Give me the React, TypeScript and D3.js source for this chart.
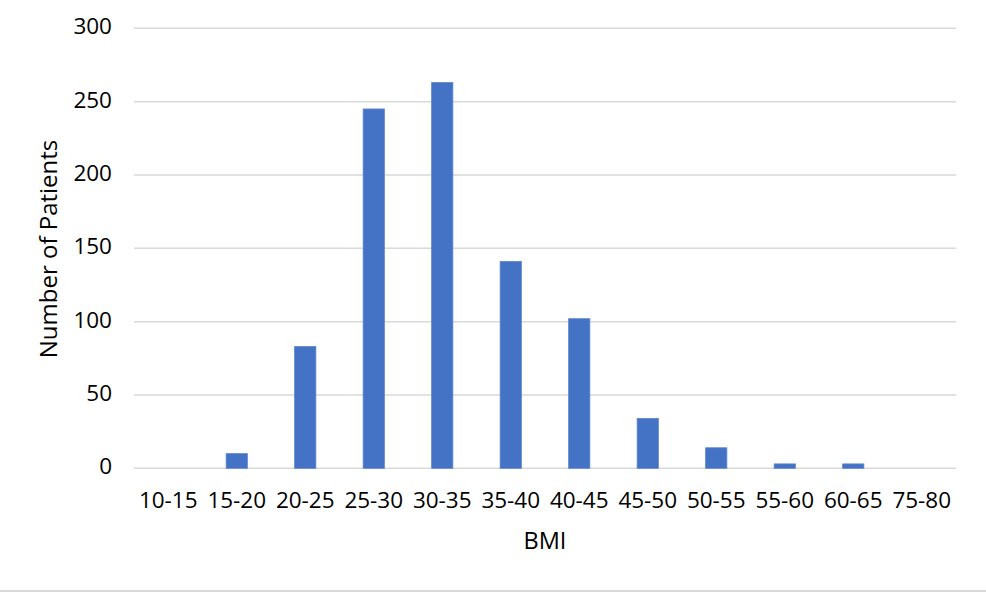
import React from "react";
import * as d3 from "d3";

const categories = ["10-15", "15-20", "20-25", "25-30", "30-35", "35-40", "40-45", "45-50", "50-55", "55-60", "60-65", "75-80"];
const patients = [0, 10, 83, 245, 263, 141, 102, 34, 14, 3, 3, 0];
const yTicks = [0, 50, 100, 150, 200, 250, 300];

const W = 986;
const H = 593;
const left = 134;
const right = 956;
const top = 28.3;
const bottom = 468.3;
const font = "'Open Sans', 'Liberation Sans', sans-serif";

export default function App() {
  const x = d3.scaleBand<string>().domain(categories).range([left, right]).paddingInner(0.69).paddingOuter(0.345);
  const y = d3.scaleLinear().domain([0, 300]).range([bottom, top]);
  const xc = d3.scaleBand<string>().domain(categories).range([left, right]);

  return (
    <svg width={W} height={H} style={{ position: "absolute", left: 0, top: 0, background: "#fff" }}>
      {yTicks.map((t) => (
        <g key={t}>
          <line x1={left} x2={right} y1={y(t)} y2={y(t)} stroke="#D9D9D9" strokeWidth={1.5} />
          <text x={112} y={y(t) + 6} textAnchor="end" fontFamily={font} fontSize={22.5} fill="#000">
            {t}
          </text>
        </g>
      ))}
      {categories.map((c, i) => (
        <rect
          key={c}
          x={x(c)}
          y={y(patients[i])}
          width={x.bandwidth()}
          height={bottom - y(patients[i])}
          fill="#4472C4"
          stroke="#5B86D0"
          strokeWidth={0.8}
        />
      ))}
      {categories.map((c) => (
        <text key={c} x={(xc(c) ?? 0) + xc.bandwidth() / 2} y={508} textAnchor="middle" fontFamily={font} fontSize={22.5} fill="#000">
          {c}
        </text>
      ))}
      <text x={545} y={548.5} textAnchor="middle" fontFamily={font} fontSize={23.5} fill="#000">
        BMI
      </text>
      <text transform="translate(57,249) rotate(-90)" textAnchor="middle" fontFamily={font} fontSize={24} fill="#000">
        Number of Patients
      </text>
      <line x1={0} x2={W} y1={591} y2={591} stroke="#D9D9D9" strokeWidth={2} />
    </svg>
  );
}
